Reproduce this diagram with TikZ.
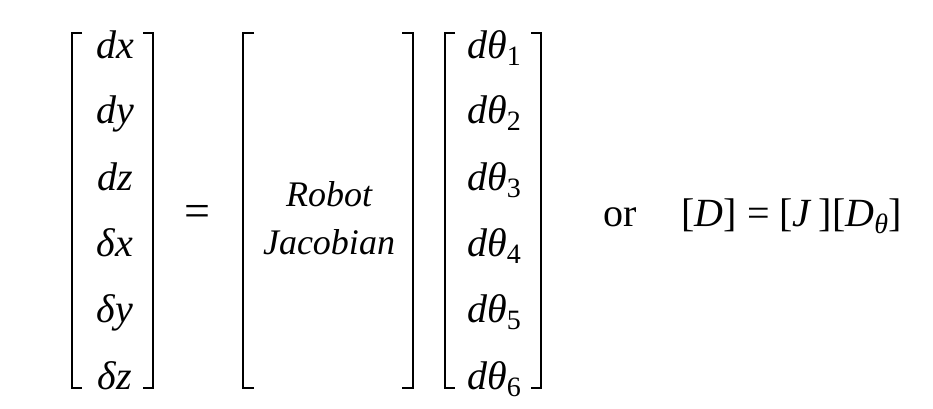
\documentclass[tikz,border=0pt]{standalone}
\usepackage{fontspec}
\setmainfont{Liberation Serif}
\begin{document}
\begin{tikzpicture}[x=1pt,y=-1pt,
  t/.style={font=\fontsize{40}{44}\selectfont\itshape,anchor=base},
  r/.style={font=\fontsize{40}{44}\selectfont,anchor=base},
  br/.style={line width=2pt,line cap=butt}]
\useasboundingbox (0,0) rectangle (933,408);
% left vector
\foreach \n/\s/\y in {1/dx/58,2/dy/123,3/dz/190,4/δx/256,5/δy/322,6/δz/389}
  \node[t] (v\n) at (115,\y) {\s};
\draw[br] (82,33) -- (72,33) -- (72,388) -- (82,388);
\draw[br] (143,33) -- (153,33) -- (153,388) -- (143,388);
\node[r,font=\fontsize{46}{50}\selectfont] (eq) at (197,226) {=};
% Jacobian
\draw[br] (254,33) -- (243,33) -- (243,388) -- (254,388);
\draw[br] (402,33) -- (413,33) -- (413,388) -- (402,388);
\node[t,font=\fontsize{36}{40}\selectfont\itshape] (rb) at (329,206) {Robot};
\node[t,font=\fontsize{36}{40}\selectfont\itshape] (jc) at (329,254) {Jacobian};
% theta vector
\draw[br] (455,33) -- (445,33) -- (445,388) -- (455,388);
\draw[br] (531,33) -- (541,33) -- (541,388) -- (531,388);
\foreach \n/\y in {1/58,2/123,3/190,4/256,5/322,6/389}
  \node[t] (th\n) at (494,\y) {dθ\raisebox{-7pt}{\upshape\fontsize{28}{30}\selectfont\n}};
\node[r] (or) at (620,226) {or};
\node[r,anchor=base west] (eq2) at (678,226) {[\textit{D}] = [\textit{J}\,][\textit{D}\raisebox{-7pt}{\fontsize{28}{30}\selectfont\itshape θ}]};
\end{tikzpicture}
\end{document}
